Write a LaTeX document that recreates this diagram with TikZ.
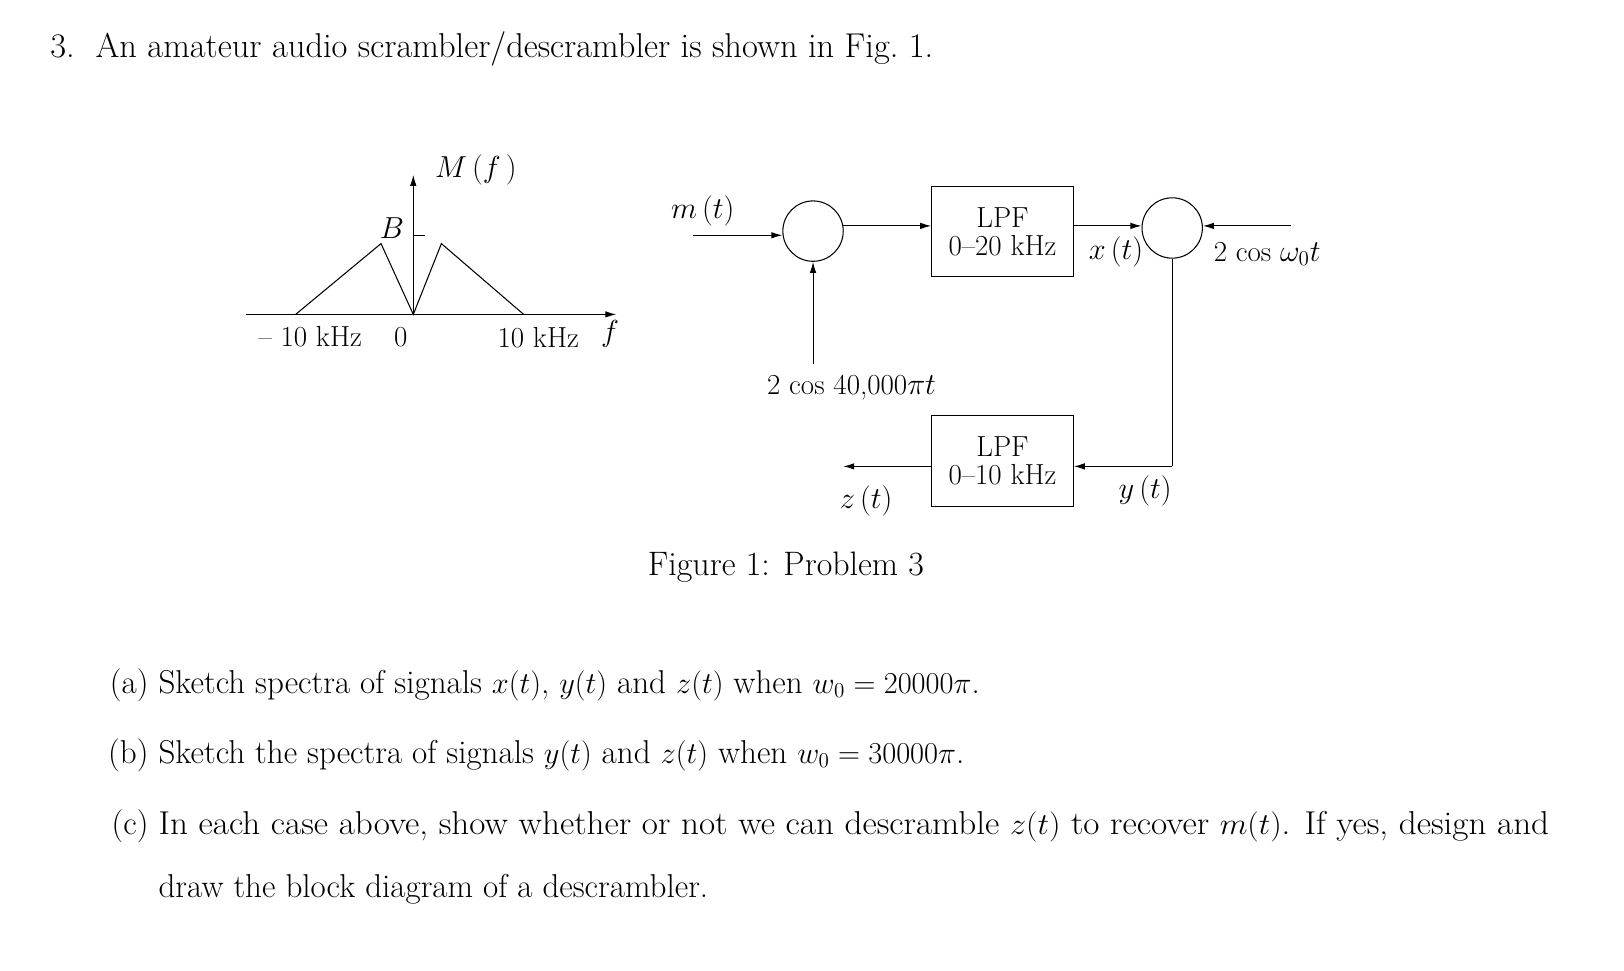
\documentclass[tikz,border=0pt]{standalone}
\usepackage{fontspec}
\usepackage{graphicx}
\usetikzlibrary{arrows.meta}
\begin{document}
\begin{tikzpicture}[x=0.02082cm,y=-0.02082cm,
  dg/.style={font=\fontsize{16.5}{18}\selectfont},
  txt/.style={font=\fontsize{18.8}{22}\selectfont,anchor=base west,inner sep=0},
  ln/.style={line width=0.6pt},
  ar/.style={line width=0.6pt,-{Latex[length=2.2mm,width=1.3mm]}},
  blk/.style={draw,line width=0.6pt,minimum width=136*0.02082cm,minimum height=87*0.02082cm,align=center,dg,inner sep=0},
  mix/.style={draw,circle,line width=0.6pt,minimum size=58*0.02082cm,inner sep=0}]
\useasboundingbox (0,0) rectangle (1560,932);
\node[txt,font=\fontsize{19.6}{22}\selectfont] (title) at (48,55) {3.\ \ An amateur audio scrambler/descrambler is shown in Fig.~1.};
% spectrum
\coordinate (ax0) at (236,302); \coordinate (ax1) at (592,302);
\coordinate (o) at (397,302); \coordinate (vt) at (397,168);
\draw[ar] (ax0) -- (ax1);
\draw[ar] (o) -- (vt);
\coordinate (a) at (284,302); \coordinate (p1) at (366,234); \coordinate (p2) at (424,234); \coordinate (b) at (503,302);
\draw[ln] (a) -- (p1) -- (o) -- (p2) -- (b);
\coordinate (bt) at (397,226); \coordinate (bt2) at (408,226);
\draw[ln] (bt) -- (bt2);
\node[dg,anchor=east,inner sep=1pt] (B) at (390,219) {$B$};
\node[dg,anchor=west] (M) at (412,163) {$M\,(f\,)$};
\node[dg] (l1) at (298,323) {-- 10 kHz};
\node[dg] (l2) at (385,324) {0};
\node[dg] (l3) at (517,324) {10 kHz};
\node[dg] (lf) at (586,321) {$f$};
% block diagram
\node[mix] (c1) at (781,222) {};
\node[mix] (c2) at (1126,219) {};
\node[blk] (f1) at (963,222.5) {LPF\\[-2pt]0--20 kHz};
\node[blk] (f2) at (963,443) {LPF\\[-2pt]0--10 kHz};
\coordinate (min) at (666,226);
\draw[ar] (min) -- (min -| c1.west);
\node[dg] (mt) at (675,203) {$m\,(t)$};
\coordinate (c1o) at (810,217);
\draw[ar] (c1o) -- (c1o -| f1.west);
\coordinate (f1o) at (1031,217);
\draw[ar] (f1o) -- (f1o -| c2.west);
\coordinate (cin) at (1240,217);
\draw[ar] (cin) -- (cin -| c2.east);
\node[dg,anchor=west] (cw) at (1160,244) {2 cos $\omega_0t$};
\node[dg] (xt) at (1072,242) {$x\,(t)$};
\coordinate (lo) at (781,350);
\draw[ar] (lo) -- (c1.south);
\node[dg] (lol) at (818,372) {2 cos 40,000$\pi t$};
\coordinate (yc) at (1126,448);
\draw[ln] (c2.south) -- (yc);
\draw[ar] (yc) -- (yc -| f2.east);
\coordinate (zo) at (810,448);
\draw[ar] (zo -| f2.west) -- (zo);
\node[dg] (zt) at (832,481) {$z\,(t)$};
\node[dg] (yt) at (1100,472) {$y\,(t)$};
% text
\node[txt,font=\fontsize{19.3}{22}\selectfont,anchor=base] (cap) at (755,553) {Figure 1: Problem 3};
\node[txt,anchor=base east] (ia) at (143,666) {(a)};
\node[txt] (ta) at (152,666) {Sketch spectra of signals $x(t)$, $y(t)$ and $z(t)$ when $w_0=20000\pi$.};
\node[txt,anchor=base east] (ib) at (143,733) {(b)};
\node[txt] (tb) at (152,733) {Sketch the spectra of signals $y(t)$ and $z(t)$ when $w_0=30000\pi$.};
\node[txt,anchor=base east] (ic) at (143,802) {(c)};
\node[txt] (tc) at (152,802) {\resizebox{27.8cm}{\height}{In each case above, show whether or not we can descramble $z(t)$ to recover $m(t)$. If yes, design and}};
\node[txt] (td) at (152,862) {draw the block diagram of a descrambler.};
\end{tikzpicture}
\end{document}
